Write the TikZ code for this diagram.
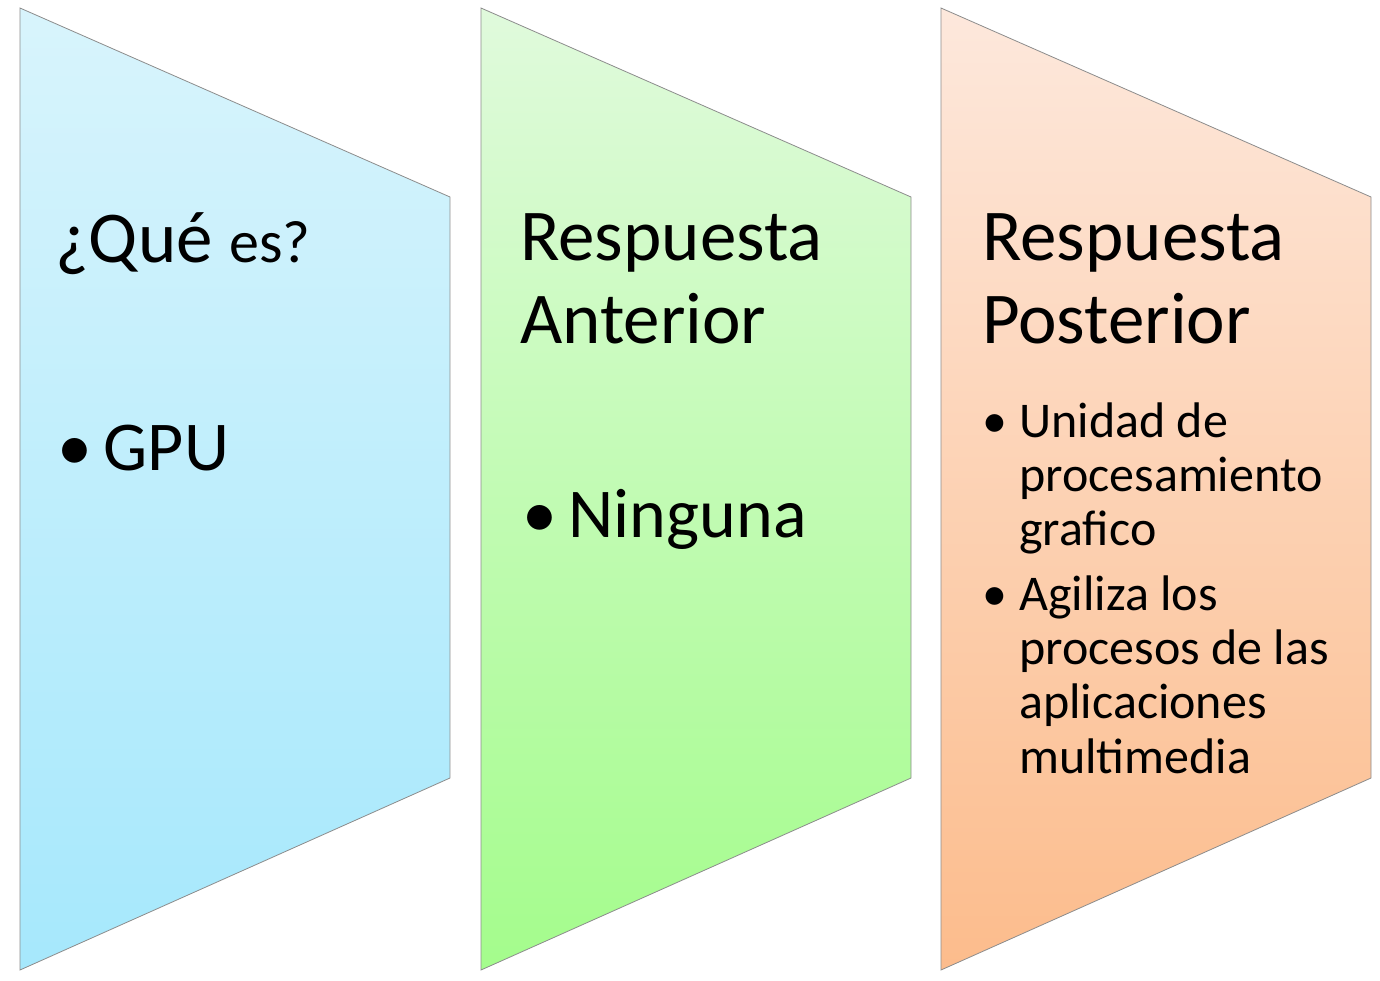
\documentclass[tikz,border=0pt]{standalone}
\usepackage{fontspec}
\setmainfont{Carlito}
\begin{document}
\begin{tikzpicture}[x=1pt,y=-1pt,
  panel/.style={draw=black!45,line width=0.8pt},
  title/.style={anchor=base west,inner sep=0pt,font=\fontsize{73}{82}\selectfont},
  big/.style={anchor=base west,inner sep=0pt,font=\fontsize{70}{80}\selectfont},
  small/.style={anchor=base west,inner sep=0pt,font=\fontsize{50}{55}\selectfont}]
\useasboundingbox (0,0) rectangle (1380,980);
\definecolor{bA}{HTML}{D8F4FC}\definecolor{bB}{HTML}{A6E8FC}
\definecolor{gA}{HTML}{E0FADC}\definecolor{gB}{HTML}{A4FC8C}
\definecolor{oA}{HTML}{FDE8DC}\definecolor{oB}{HTML}{FCBC8C}
\foreach \x/\ca/\cb/\nm in {20/bA/bB/p1,481/gA/gB/p2,941/oA/oB/p3}{
  \shade[top color=\ca,bottom color=\cb] (\x,8) -- (\x+430,197) -- (\x+430,778) -- (\x,970) -- cycle;
  \draw[panel] (\x,8) -- (\x+430,197) -- (\x+430,778) -- (\x,970) -- cycle;
}
\node[title] (t1) at (55,262) {¿Qué {\fontsize{60}{70}\selectfont es?}};
\node[big] (b1) at (57,470) {\textbullet\,GPU};
\node[title] (t2a) at (520,260) {Respuesta};
\node[title] (t2b) at (520,343) {Anterior};
\node[big] (b2) at (522,537) {\textbullet\,Ninguna};
\node[title] (t3a) at (982,260) {Respuesta};
\node[title] (t3b) at (982,343) {Posterior};
\node[small] (d1) at (982,437) {\textbullet};
\node[small] (l1) at (1019,437) {Unidad de};
\node[small] (l2) at (1019,491) {procesamiento};
\node[small] (l3) at (1019,545) {grafico};
\node[small] (d2) at (982,610) {\textbullet};
\node[small] (l4) at (1019,610) {Agiliza los};
\node[small] (l5) at (1019,664) {procesos de las};
\node[small] (l6) at (1019,718) {aplicaciones};
\node[small] (l7) at (1019,773) {multimedia};
\end{tikzpicture}
\end{document}
